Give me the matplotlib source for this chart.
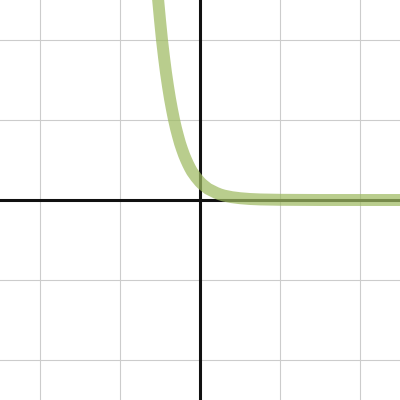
import numpy as np
import matplotlib
matplotlib.use('Agg')
import matplotlib.pyplot as plt

# points (graph units)
curve_x = [-1.06, -1.0, -0.95, -0.9, -0.85, -0.8, -0.75, -0.7, -0.65, -0.6, -0.55, -0.5,
           -0.45, -0.4, -0.35, -0.3, -0.25, -0.2, -0.15, -0.1, -0.05, 0.0, 0.05, 0.1,
           0.15, 0.2, 0.3, 0.4, 0.5, 0.6, 0.8, 1.0, 1.25, 1.5, 2.0, 3.0, 5.2]
curve_y = [5.15, 4.5, 4.0, 3.57, 3.18, 2.84, 2.53, 2.26, 2.01, 1.79, 1.6, 1.42,
           1.27, 1.13, 1.01, 0.9, 0.8, 0.71, 0.64, 0.57, 0.51, 0.45, 0.4, 0.36,
           0.32, 0.28, 0.23, 0.18, 0.14, 0.11, 0.07, 0.045, 0.025, 0.014, 0.005, 0.0, 0.0]

grid_ticks = [-4, -2, 0, 2, 4]

fig = plt.figure(figsize=(4, 4), dpi=100)
ax = fig.add_axes([0, 0, 1, 1])
ax.set_xlim(-5, 5)
ax.set_ylim(-5, 5)

for t in grid_ticks:
    ax.axvline(t, color='#cccccc', lw=0.8, zorder=1)
    ax.axhline(t, color='#cccccc', lw=0.8, zorder=1)

ax.axhline(0, color='#111111', lw=2.2, zorder=2)
ax.axvline(0, color='#111111', lw=2.2, zorder=2)

ax.plot(curve_x, curve_y, color=(0.62, 0.73, 0.38), alpha=0.72, lw=8.6,
        solid_capstyle='butt', solid_joinstyle='round', zorder=3)

ax.set_xticks([])
ax.set_yticks([])
for s in ax.spines.values():
    s.set_visible(False)

fig.savefig('out.png', dpi=100)
